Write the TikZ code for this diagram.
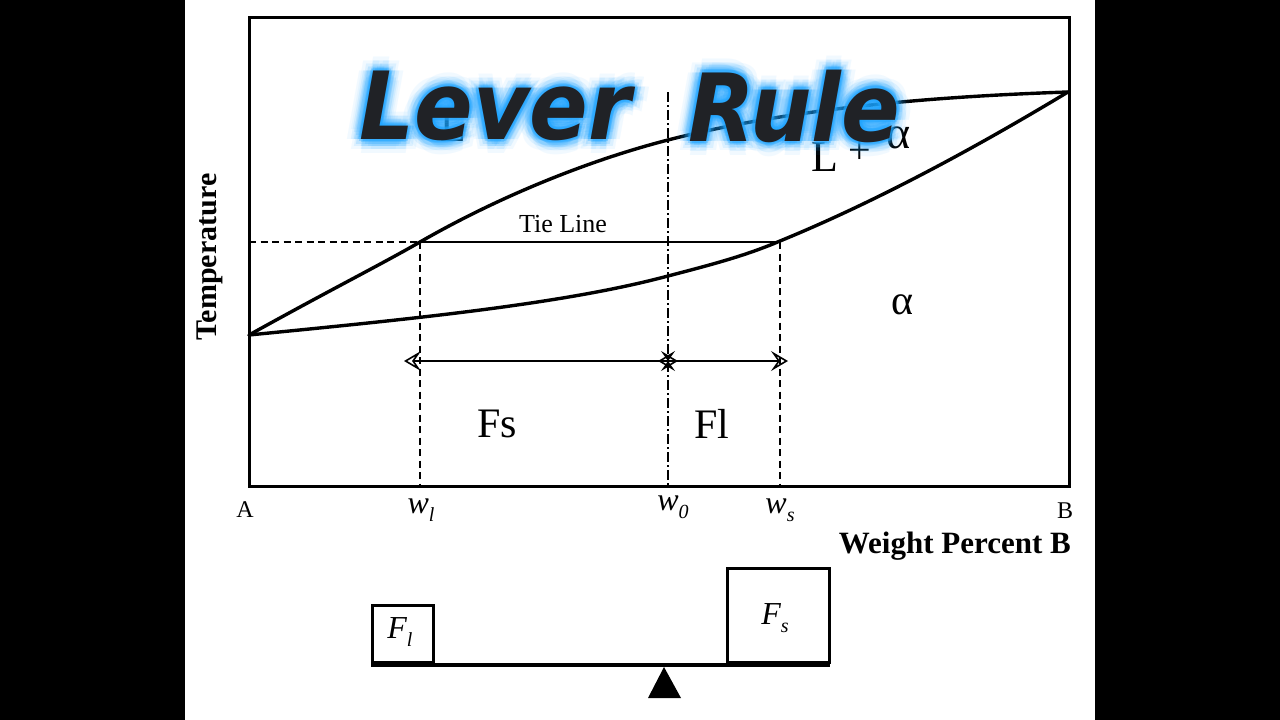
\documentclass[tikz,border=0pt]{standalone}
\usepackage{fontspec}
\setmainfont{Liberation Serif}
\newfontfamily\titlefont{DejaVu Sans}
\usetikzlibrary{arrows.meta}
\definecolor{glowblue}{RGB}{30,165,255}
\definecolor{titledark}{RGB}{32,34,38}
\begin{document}
\begin{tikzpicture}[x=1pt,y=-1pt,
  frame/.style={line width=3pt},
  phaseline/.style={line width=3.4pt,line join=round,line cap=round},
  guide/.style={line width=1.5pt,dash pattern=on 7pt off 4.5pt},
  centerline/.style={line width=1.5pt,dash pattern=on 10pt off 3pt on 2pt off 3pt},
  tieline/.style={line width=2pt},
  dimarrow/.style={line width=1.6pt,{Stealth[open,length=17pt,width=20pt,inset=7pt]}-{Stealth[open,length=17pt,width=20pt,inset=7pt]}},
  serif/.style={inner sep=0pt,font=\fontsize{#1}{#1}\selectfont},
  boldlbl/.style={inner sep=0pt,font=\bfseries\fontsize{#1}{#1}\selectfont},
  titletext/.style={inner sep=0pt,xscale=0.92,font=\titlefont\bfseries\itshape\fontsize{94}{94}\selectfont},
  weight/.style={line width=3pt,fill=white}
]
\useasboundingbox (0,0) rectangle (1280,720);
\fill[black] (0,0) rectangle (185,720);
\fill[black] (1095,0) rectangle (1280,720);
\fill[white] (185,0) rectangle (1095,720);

% key coordinates
\coordinate (A) at (249,335);
\coordinate (TL) at (249,17);
\coordinate (BR) at (1069,486);
\coordinate (B) at (1068,92);
\coordinate (liq) at (420,242);
\coordinate (sol) at (780,241);
\coordinate (liq0) at (668,140);
\coordinate (sol0) at (668,276);
\coordinate (tleft) at (249,242);
\coordinate (tright) at (780,242);
\coordinate (wlbot) at (420,486);
\coordinate (wsbot) at (780,486);
\coordinate (w0top) at (668,92);
\coordinate (w0bot) at (668,486);
\coordinate (arrL) at (404,361);
\coordinate (arrR) at (788,361);
\coordinate (arrM1) at (678,361);
\coordinate (arrM2) at (658,361);

% hidden L region label (under title)
\node[serif=42,anchor=base west] (Lreg) at (440,141) {L};

% guide lines
\draw[guide] (tleft) -- (liq);
\draw[guide] (liq) -- (wlbot);
\draw[guide] (tright) -- (wsbot);
\draw[centerline] (w0top) -- (w0bot);
\draw[tieline] (liq) -- (tright);

% phase boundaries
\draw[phaseline] (A) .. controls (330,290) and (380,265) .. (liq)
  .. controls (500,196) and (590,160) .. (liq0)
  .. controls (800,106) and (950,96) .. (B);
\draw[phaseline] (A) .. controls (400,320) and (560,305) .. (sol0)
  .. controls (710,265) and (745,256) .. (sol)
  .. controls (880,200) and (980,145) .. (B);

% frame
\draw[frame] (TL) rectangle (BR);

% dimension arrows
\draw[dimarrow] (arrL) -- (arrM1);
\draw[dimarrow] (arrM2) -- (arrR);

% labels in plot
\node[serif=26] (tie) at (563,224) {Tie Line};
\node[serif=42] (Fs) at (497,424) {Fs};
\node[serif=42] (Fl) at (712,424) {Fl};
\node[serif=42] (alpha) at (902,305) {α};
\node[serif=44,anchor=base west] (Lp) at (811,171) {L};
\node[serif=40] (plus) at (860,152) {+};
\node[serif=46] (alpha2) at (899,138) {α};

% axis labels
\node[serif=24] (Alab) at (245,510) {A};
\node[serif=24] (Blab) at (1065,511) {B};
\node[serif=32] (wl) at (421,510) {\itshape w\raisebox{-0.25em}{\fontsize{20}{20}\selectfont l}};
\node[serif=32] (w0) at (673,507) {\itshape w\raisebox{-0.25em}{\fontsize{20}{20}\selectfont 0}};
\node[serif=32] (ws) at (780,510) {\itshape w\raisebox{-0.25em}{\fontsize{20}{20}\selectfont s}};
\node[boldlbl=31,anchor=east] (xlab) at (1071,546) {Weight Percent B};
\node[boldlbl=30,rotate=90] (ylab) at (210,257) {Temperature};

% title with glow
\coordinate (lev) at (495,106);
\coordinate (rul) at (794,106);
\foreach \r/\o in {14/0.06,10/0.1,6.5/0.16,3/0.3}{
  \foreach \a in {0,45,...,315}{
    \node[titletext,text=glowblue,opacity=\o] at ([shift={(\a:\r pt)}]lev) {Lever};
    \node[titletext,text=glowblue,opacity=\o] at ([shift={(\a:\r pt)}]rul) {Rule};
  }
}
\node[titletext,text=titledark] (levertxt) at (lev) {Lever};
\node[titletext,text=titledark] (ruletxt) at (rul) {Rule};

% balance
\coordinate (beamL) at (371,665);
\coordinate (beamR) at (830,665);
\draw[line width=4pt] (beamL) -- (beamR);
\draw[weight] (372,605) rectangle (433,662);
\draw[weight] (727,568) rectangle (829,662);
\node[serif=32] (Flbox) at (400,632) {\itshape F\raisebox{-0.25em}{\fontsize{20}{20}\selectfont l}};
\node[serif=32] (Fsbox) at (775,618) {\itshape F\raisebox{-0.25em}{\fontsize{20}{20}\selectfont s}};
\coordinate (apex) at (664,667);
\coordinate (baseR) at (681,698);
\coordinate (baseL) at (648,698);
\fill[black] (apex) -- (baseR) -- (baseL) -- cycle;
\end{tikzpicture}
\end{document}
